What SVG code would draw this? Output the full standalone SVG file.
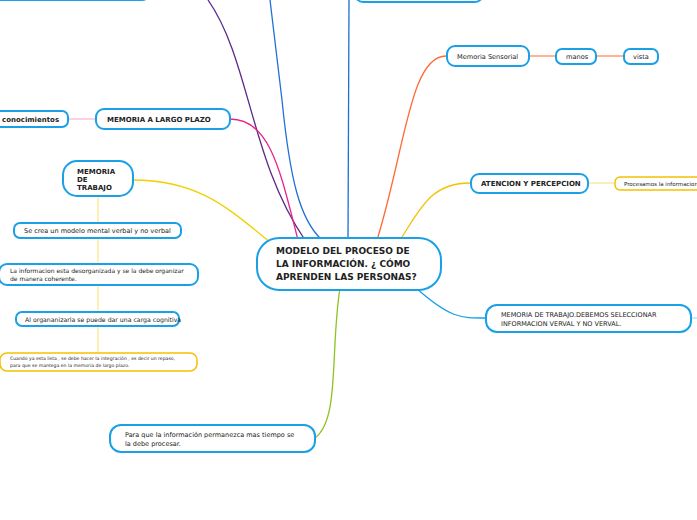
<svg xmlns="http://www.w3.org/2000/svg" width="697" height="520" viewBox="0 0 697 520">
<style>
.n{fill:#fff;stroke:#1aa0e6;stroke-width:2}
.y{fill:#fff;stroke:#f5c000;stroke-width:1.5}
.c{fill:none;stroke-width:1.3}
text{font-family:"DejaVu Sans",sans-serif;fill:#222}
.b{font-weight:bold}
</style>
<rect width="697" height="520" fill="#fff"/>
<g id="connectors">
<path class="c" stroke="#5b2a86" d="M208,0 C250,60 250,160 305,240"/>
<path class="c" stroke="#1f6fd6" d="M270,0 L282,100 C290,180 300,220 322,240"/>
<path class="c" stroke="#1f6fd6" d="M349,0 L348,240"/>
<path class="c" stroke="#e8238a" d="M230,119 C270,119 280,170 298,240"/>
<path class="c" stroke="#ff6a35" d="M446,56 C410,56 405,150 377,240"/>
<path class="c" stroke="#ff9a70" d="M529,56 H556 M597,56 H623"/>
<path class="c" stroke="#f5c000" d="M470,183 C430,183 420,210 400,240"/>
<path class="c" stroke="#fbe49a" d="M588,183 H614"/>
<path class="c" stroke="#f0d000" d="M133,180 C200,180 230,210 270,242"/>
<path class="c" stroke="#fbe98a" d="M98,196 V360"/>
<path class="c" stroke="#f9b8d8" d="M68,119 H95"/>
<path class="c" stroke="#1aa0e6" d="M416,288 C450,318 460,318 486,318"/>
<path class="c" stroke="#aee0f8" d="M691,318 H697"/>
<path class="c" stroke="#8dc21f" d="M340,288 C330,350 340,420 315,438"/>
</g>
<g id="top-left"><rect class="n" x="-20" y="-15" width="170" height="15" rx="8"/></g>
<g id="top-mid"><rect class="n" x="355" y="-15" width="128" height="17" rx="8"/></g>
<g id="center"><rect class="n" x="257" y="238" width="184" height="52" rx="22"/>
<text class="b" font-size="9" x="276" y="254">MODELO DEL PROCESO DE</text>
<text class="b" font-size="9" x="276" y="267">LA INFORMACIÓN. ¿ CÓMO</text>
<text class="b" font-size="9" x="276" y="280">APRENDEN LAS PERSONAS?</text></g>
<g id="sensorial"><rect class="n" x="447" y="46" width="82" height="20" rx="8"/><text font-size="6.6" x="457" y="59">Memoria Sensorial</text></g>
<g id="manos"><rect class="n" x="556" y="49" width="40" height="15" rx="6"/><text font-size="6.6" x="566" y="59">manos</text></g>
<g id="vista"><rect class="n" x="624" y="49" width="34" height="15" rx="6"/><text font-size="6.6" x="633" y="59">vista</text></g>
<g id="largo"><rect class="n" x="96" y="109" width="134" height="20" rx="8"/><text class="b" font-size="7" x="107" y="122">MEMORIA A LARGO PLAZO</text></g>
<g id="conoc"><rect class="n" x="-10" y="111" width="78" height="16" rx="6"/><text class="b" font-size="7" x="2" y="122">conocimientos</text></g>
<g id="atencion"><rect class="n" x="471" y="174" width="117" height="19" rx="8"/><text class="b" font-size="7" x="481" y="186">ATENCION Y PERCEPCION</text></g>
<g id="procesamos"><rect class="y" x="615" y="177" width="100" height="13" rx="5"/><text font-size="5.5" x="624" y="186">Procesamos la informacion</text></g>
<g id="mtrabajo"><rect class="n" x="63" y="161" width="70" height="35" rx="14"/>
<text class="b" font-size="7" x="77" y="174">MEMORIA</text><text class="b" font-size="7" x="77" y="182">DE</text><text class="b" font-size="7" x="77" y="190">TRABAJO</text></g>
<g id="se-crea"><rect class="n" x="14" y="223" width="167" height="15" rx="6"/><text font-size="6.5" x="24" y="233">Se crea un modelo mental verbal y no verbal</text></g>
<g id="la-info"><rect class="n" x="-1" y="264" width="199" height="21" rx="8"/><text font-size="6" x="10" y="273">La informacion esta desorganizada y se la debe organizar</text><text font-size="6" x="10" y="281">de manera coherente.</text></g>
<g id="al-org"><rect class="n" x="16" y="312" width="163" height="14" rx="6"/><text font-size="6.2" x="25" y="322">Al organanizarla se puede dar una carga cognitiva</text></g>
<g id="cuando"><rect class="y" x="0" y="353" width="197" height="18" rx="7"/><text font-size="4.6" x="10" y="360">Cuando ya esta lista , se debe hacer la integración , es decir un repaso,</text><text font-size="4.6" x="10" y="367">para que se mantega en la memoria de largo plazo.</text></g>
<g id="mt-debemos"><rect class="n" x="486" y="305" width="205" height="27" rx="11"/><text font-size="6.5" x="501" y="317">MEMORIA DE TRABAJO.DEBEMOS SELECCIONAR</text><text font-size="6.5" x="501" y="326">INFORMACION VERVAL Y NO VERVAL.</text></g>
<g id="para-que"><rect class="n" x="110" y="425" width="205" height="27" rx="11"/><text font-size="6.5" x="125" y="437">Para que la información permanezca mas tiempo se</text><text font-size="6.5" x="125" y="446">la debe procesar.</text></g>
</svg>
